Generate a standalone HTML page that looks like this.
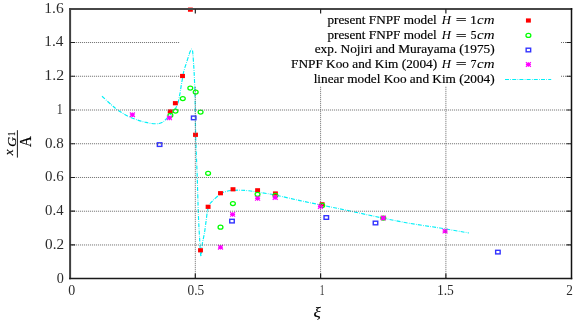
<!DOCTYPE html><html><head><meta charset="utf-8"><title>plot</title><style>
html,body{margin:0;padding:0;background:#fff;}
svg{display:block;}
text{font-family:"Liberation Serif",serif;fill:#000;font-kerning:none;}
.k text,.xi{stroke:#000;stroke-width:0.18px;}
.k text.m{stroke-width:0.05px;}
text.t{fill:#2b2b2b;}
</style></head><body>
<svg width="574" height="322" viewBox="0 0 574 322">
<rect x="0" y="0" width="574" height="322" fill="#fff"/>
<path d="M102.00 96.30C103.55 97.70 108.67 102.40 111.30 104.70C113.93 107.00 115.08 108.22 117.80 110.10C120.52 111.98 124.15 114.28 127.60 116.00C131.05 117.72 135.68 119.40 138.50 120.40C141.32 121.40 142.58 121.52 144.50 122.00C146.42 122.48 148.00 123.00 150.00 123.30C152.00 123.60 154.83 123.80 156.50 123.80C158.17 123.80 158.92 123.60 160.00 123.30C161.08 123.00 162.17 122.52 163.00 122.00C163.83 121.48 164.17 120.98 165.00 120.20C165.83 119.42 167.00 118.35 168.00 117.30C169.00 116.25 170.03 115.02 171.00 113.90C171.97 112.78 172.97 111.67 173.80 110.60C174.63 109.53 175.33 108.63 176.00 107.50C176.67 106.37 177.32 105.23 177.80 103.80C178.28 102.37 178.55 100.55 178.90 98.90C179.25 97.25 179.60 95.57 179.90 93.90C180.20 92.23 180.43 90.57 180.70 88.90C180.97 87.23 181.22 85.55 181.50 83.90C181.78 82.25 182.12 80.65 182.40 79.00C182.68 77.35 182.85 75.68 183.20 74.00C183.55 72.32 184.02 70.58 184.50 68.90C184.98 67.22 185.57 65.57 186.10 63.90C186.63 62.23 187.18 60.52 187.70 58.90C188.22 57.28 188.73 55.55 189.20 54.20C189.67 52.85 190.10 51.63 190.50 50.80C190.90 49.97 191.28 49.28 191.60 49.20C191.92 49.12 192.18 49.50 192.40 50.30C192.62 51.10 192.70 51.73 192.90 54.00C193.10 56.27 193.38 60.60 193.60 63.90C193.82 67.20 194.02 70.12 194.20 73.80C194.38 77.48 194.55 81.63 194.70 86.00C194.85 90.37 194.92 91.00 195.10 100.00C195.28 109.00 195.45 127.33 195.80 140.00C196.15 152.67 196.77 163.50 197.20 176.00C197.63 188.50 197.98 204.33 198.40 215.00C198.82 225.67 199.28 233.13 199.70 240.00C200.12 246.87 200.47 255.53 200.90 256.20C201.33 256.87 201.70 247.92 202.30 244.00C202.90 240.08 203.88 236.43 204.50 232.70C205.12 228.97 205.48 225.32 206.00 221.60C206.52 217.88 207.02 213.25 207.60 210.40C208.18 207.55 208.85 205.90 209.50 204.50C210.15 203.10 210.72 202.87 211.50 202.00C212.28 201.13 212.62 200.72 214.20 199.30C215.78 197.88 219.03 194.80 221.00 193.50C222.97 192.20 224.33 192.00 226.00 191.50C227.67 191.00 228.67 190.72 231.00 190.50C233.33 190.28 237.00 190.15 240.00 190.20C243.00 190.25 245.67 190.42 249.00 190.80C252.33 191.18 255.67 191.80 260.00 192.50C264.33 193.20 268.33 193.65 275.00 195.00C281.67 196.35 291.67 198.80 300.00 200.60C308.33 202.40 316.67 204.07 325.00 205.80C333.33 207.53 340.83 209.05 350.00 211.00C359.17 212.95 370.00 215.43 380.00 217.50C390.00 219.57 400.00 221.65 410.00 223.40C420.00 225.15 430.17 226.40 440.00 228.00C449.83 229.60 464.17 232.17 469.00 233.00" stroke="#00f0f8" stroke-width="1.15" fill="none" stroke-dasharray="4 1.3 0.7 1.2"/>
<rect x="187.95" y="7.55" width="4.9" height="4.2" fill="#f00"/>
<rect x="180.05" y="73.90" width="4.9" height="4.2" fill="#f00"/>
<rect x="172.90" y="101.10" width="4.9" height="4.2" fill="#f00"/>
<rect x="167.75" y="109.40" width="4.9" height="4.2" fill="#f00"/>
<rect x="193.05" y="132.70" width="4.9" height="4.2" fill="#f00"/>
<rect x="198.05" y="248.20" width="4.9" height="4.2" fill="#f00"/>
<rect x="205.65" y="204.70" width="4.9" height="4.2" fill="#f00"/>
<rect x="218.05" y="191.10" width="4.9" height="4.2" fill="#f00"/>
<rect x="230.55" y="187.20" width="4.9" height="4.2" fill="#f00"/>
<rect x="255.15" y="188.20" width="4.9" height="4.2" fill="#f00"/>
<rect x="272.95" y="191.40" width="4.9" height="4.2" fill="#f00"/>
<rect x="319.65" y="202.20" width="4.9" height="4.2" fill="#f00"/>
<rect x="380.85" y="215.90" width="4.9" height="4.2" fill="#f00"/>
<ellipse cx="190.30" cy="88.00" rx="2.45" ry="2.0" fill="none" stroke="#0f0" stroke-width="1.25"/>
<ellipse cx="195.70" cy="92.10" rx="2.45" ry="2.0" fill="none" stroke="#0f0" stroke-width="1.25"/>
<ellipse cx="182.80" cy="98.60" rx="2.45" ry="2.0" fill="none" stroke="#0f0" stroke-width="1.25"/>
<ellipse cx="175.50" cy="111.10" rx="2.45" ry="2.0" fill="none" stroke="#0f0" stroke-width="1.25"/>
<ellipse cx="170.40" cy="115.30" rx="2.45" ry="2.0" fill="none" stroke="#0f0" stroke-width="1.25"/>
<ellipse cx="200.60" cy="112.00" rx="2.45" ry="2.0" fill="none" stroke="#0f0" stroke-width="1.25"/>
<ellipse cx="208.10" cy="173.30" rx="2.45" ry="2.0" fill="none" stroke="#0f0" stroke-width="1.25"/>
<ellipse cx="220.50" cy="227.20" rx="2.45" ry="2.0" fill="none" stroke="#0f0" stroke-width="1.25"/>
<ellipse cx="232.90" cy="203.60" rx="2.45" ry="2.0" fill="none" stroke="#0f0" stroke-width="1.25"/>
<ellipse cx="257.50" cy="194.30" rx="2.45" ry="2.0" fill="none" stroke="#0f0" stroke-width="1.25"/>
<ellipse cx="275.40" cy="195.30" rx="2.45" ry="2.0" fill="none" stroke="#0f0" stroke-width="1.25"/>
<ellipse cx="322.20" cy="205.40" rx="2.45" ry="2.0" fill="none" stroke="#0f0" stroke-width="1.25"/>
<ellipse cx="383.30" cy="218.00" rx="2.45" ry="2.0" fill="none" stroke="#0f0" stroke-width="1.25"/>
<rect x="157.35" y="142.80" width="4.5" height="3.6" fill="none" stroke="#33f" stroke-width="1.4"/>
<rect x="191.45" y="116.10" width="4.5" height="3.6" fill="none" stroke="#33f" stroke-width="1.4"/>
<rect x="229.75" y="219.30" width="4.5" height="3.6" fill="none" stroke="#33f" stroke-width="1.4"/>
<rect x="324.05" y="215.70" width="4.5" height="3.6" fill="none" stroke="#33f" stroke-width="1.4"/>
<rect x="373.25" y="221.20" width="4.5" height="3.6" fill="none" stroke="#33f" stroke-width="1.4"/>
<rect x="495.65" y="250.30" width="4.5" height="3.6" fill="none" stroke="#33f" stroke-width="1.4"/>
<path d="M129.90 112.45L134.90 116.95M129.90 116.95L134.90 112.45M129.90 114.70H134.90M132.40 112.45V116.95" stroke="#f0f" stroke-width="1.15"/>
<path d="M166.90 115.65L171.90 120.15M166.90 120.15L171.90 115.65M166.90 117.90H171.90M169.40 115.65V120.15" stroke="#f0f" stroke-width="1.15"/>
<path d="M218.00 244.95L223.00 249.45M218.00 249.45L223.00 244.95M218.00 247.20H223.00M220.50 244.95V249.45" stroke="#f0f" stroke-width="1.15"/>
<path d="M230.10 212.15L235.10 216.65M230.10 216.65L235.10 212.15M230.10 214.40H235.10M232.60 212.15V216.65" stroke="#f0f" stroke-width="1.15"/>
<path d="M255.10 196.15L260.10 200.65M255.10 200.65L260.10 196.15M255.10 198.40H260.10M257.60 196.15V200.65" stroke="#f0f" stroke-width="1.15"/>
<path d="M272.70 195.35L277.70 199.85M272.70 199.85L277.70 195.35M272.70 197.60H277.70M275.20 195.35V199.85" stroke="#f0f" stroke-width="1.15"/>
<path d="M317.90 204.35L322.90 208.85M317.90 208.85L322.90 204.35M317.90 206.60H322.90M320.40 204.35V208.85" stroke="#f0f" stroke-width="1.15"/>
<path d="M380.80 215.75L385.80 220.25M380.80 220.25L385.80 215.75M380.80 218.00H385.80M383.30 215.75V220.25" stroke="#f0f" stroke-width="1.15"/>
<path d="M442.60 228.85L447.60 233.35M442.60 233.35L447.60 228.85M442.60 231.10H447.60M445.10 228.85V233.35" stroke="#f0f" stroke-width="1.15"/>
<path d="M70.1 244.96H571.5M70.1 211.22H571.5M70.1 177.48H571.5M70.1 143.74H571.5M70.1 110.00H571.5M70.1 76.26H179.5M561.0 76.26H571.5M70.1 42.52H179.5M561.0 42.52H571.5M195.32 86.8V278.4M320.60 86.8V278.4M445.88 86.8V278.4" stroke="#6a6a6a" stroke-width="1" stroke-dasharray="1 1" fill="none"/>
<path d="M69.1 8.9H572.25" stroke="#474747" stroke-width="2"/>
<path d="M70.1 7.9V279.25" stroke="#404040" stroke-width="2"/>
<path d="M69.1 278.45H572.25" stroke="#1a1a1a" stroke-width="1.6"/>
<path d="M571.5 7.9V279.25" stroke="#111" stroke-width="1.5"/>
<path d="M70.1 244.96h5M571.5 244.96h-5M70.1 211.22h5M571.5 211.22h-5M70.1 177.48h5M571.5 177.48h-5M70.1 143.74h5M571.5 143.74h-5M70.1 110.00h5M571.5 110.00h-5M70.1 76.26h5M571.5 76.26h-5M70.1 42.52h5M571.5 42.52h-5M195.32 278.4v-5M195.32 8.9v4.7M320.60 278.4v-5M320.60 8.9v4.7M445.88 278.4v-5M445.88 8.9v4.7" stroke="#222" stroke-width="1.2" fill="none"/>
<text x="56.76" y="282.55" font-size="13.7" textLength="7.08" lengthAdjust="spacingAndGlyphs" class="t">0</text>
<text x="45.12" y="248.81" font-size="13.7" textLength="19.02" lengthAdjust="spacingAndGlyphs" class="t">0.2</text>
<text x="45.14" y="215.07" font-size="13.7" textLength="18.39" lengthAdjust="spacingAndGlyphs" class="t">0.4</text>
<text x="45.13" y="181.33" font-size="13.7" textLength="18.61" lengthAdjust="spacingAndGlyphs" class="t">0.6</text>
<text x="45.13" y="147.59" font-size="13.7" textLength="18.74" lengthAdjust="spacingAndGlyphs" class="t">0.8</text>
<text x="56.85" y="113.85" font-size="13.7" textLength="5.97" lengthAdjust="spacingAndGlyphs" class="t">1</text>
<text x="44.30" y="80.11" font-size="13.7" textLength="19.87" lengthAdjust="spacingAndGlyphs" class="t">1.2</text>
<text x="44.35" y="46.37" font-size="13.7" textLength="19.19" lengthAdjust="spacingAndGlyphs" class="t">1.4</text>
<text x="44.33" y="12.63" font-size="13.7" textLength="19.43" lengthAdjust="spacingAndGlyphs" class="t">1.6</text>
<text x="68.27" y="294.60" font-size="13.7" textLength="6.96" lengthAdjust="spacingAndGlyphs" class="t">0</text>
<text x="187.49" y="294.60" font-size="13.7" textLength="16.63" lengthAdjust="spacingAndGlyphs" class="t">0.5</text>
<text x="319.68" y="294.60" font-size="13.7" textLength="4.69" lengthAdjust="spacingAndGlyphs" class="t">1</text>
<text x="436.91" y="294.60" font-size="13.7" textLength="16.92" lengthAdjust="spacingAndGlyphs" class="t">1.5</text>
<text x="566.22" y="294.60" font-size="13.7" textLength="6.61" lengthAdjust="spacingAndGlyphs" class="t">2</text>
<text x="313.62" y="316.90" font-size="15.5" font-style="italic" textLength="7.29" lengthAdjust="spacingAndGlyphs" class="xi">ξ</text>
<g class="k" transform="rotate(-90)">
<text x="-155.24" y="12.80" font-size="13" font-style="italic" textLength="5.74" lengthAdjust="spacingAndGlyphs">x</text>
<text x="-146.97" y="15.70" font-size="12.5" font-style="italic" textLength="10.07" lengthAdjust="spacingAndGlyphs">G</text>
<text x="-136.10" y="15.40" font-size="10.8" textLength="3.98" lengthAdjust="spacingAndGlyphs">1</text>
<path d="M-157.6 17.4H-130.2" stroke="#000" stroke-width="0.9"/>
<text x="-147.05" y="31.10" font-size="16.5" textLength="10.75" lengthAdjust="spacingAndGlyphs">A</text>
</g>
<g class="k">
<text x="327.39" y="23.60" font-size="13.3" textLength="109.38" lengthAdjust="spacingAndGlyphs">present FNPF model</text>
<text x="441.84" y="23.60" font-size="13.3" font-style="italic" textLength="9.19" lengthAdjust="spacingAndGlyphs" class="m">H</text>
<text x="455.84" y="24.45" font-size="11.5" textLength="10.91" lengthAdjust="spacingAndGlyphs">=</text>
<text x="470.25" y="23.60" font-size="13.3" textLength="6.53" lengthAdjust="spacingAndGlyphs">1</text>
<text x="477.14" y="23.60" font-size="13.3" font-style="italic" textLength="17.49" lengthAdjust="spacingAndGlyphs" class="m">cm</text>
<text x="327.39" y="38.80" font-size="13.3" textLength="109.38" lengthAdjust="spacingAndGlyphs">present FNPF model</text>
<text x="441.84" y="38.80" font-size="13.3" font-style="italic" textLength="9.19" lengthAdjust="spacingAndGlyphs" class="m">H</text>
<text x="455.84" y="39.65" font-size="11.5" textLength="10.91" lengthAdjust="spacingAndGlyphs">=</text>
<text x="470.74" y="38.80" font-size="13.3" textLength="5.71" lengthAdjust="spacingAndGlyphs">5</text>
<text x="477.14" y="38.80" font-size="13.3" font-style="italic" textLength="17.49" lengthAdjust="spacingAndGlyphs" class="m">cm</text>
<text x="314.68" y="52.90" font-size="13.3" textLength="180.00" lengthAdjust="spacingAndGlyphs">exp. Nojiri and Murayama (1975)</text>
<text x="291.02" y="67.50" font-size="13.3" textLength="146.17" lengthAdjust="spacingAndGlyphs">FNPF Koo and Kim (2004)</text>
<text x="441.84" y="67.50" font-size="13.3" font-style="italic" textLength="9.19" lengthAdjust="spacingAndGlyphs" class="m">H</text>
<text x="455.84" y="68.35" font-size="11.5" textLength="10.91" lengthAdjust="spacingAndGlyphs">=</text>
<text x="470.65" y="67.50" font-size="13.3" textLength="5.68" lengthAdjust="spacingAndGlyphs">7</text>
<text x="477.14" y="67.50" font-size="13.3" font-style="italic" textLength="17.49" lengthAdjust="spacingAndGlyphs" class="m">cm</text>
<text x="313.63" y="82.70" font-size="13.3" textLength="181.05" lengthAdjust="spacingAndGlyphs">linear model Koo and Kim (2004)</text>
</g>
<rect x="525.95" y="18.40" width="4.9" height="4.2" fill="#f00"/>
<ellipse cx="528.40" cy="35.40" rx="2.45" ry="2.0" fill="none" stroke="#0f0" stroke-width="1.25"/>
<rect x="526.15" y="48.20" width="4.5" height="3.6" fill="none" stroke="#33f" stroke-width="1.4"/>
<path d="M525.90 62.25L530.90 66.75M525.90 66.75L530.90 62.25M525.90 64.50H530.90M528.40 62.25V66.75" stroke="#f0f" stroke-width="1.15"/>
<path d="M505 79.5H551.2" stroke="#00f0f8" stroke-width="1.15" stroke-dasharray="4 1.3 0.7 1.2"/>
</svg></body></html>
